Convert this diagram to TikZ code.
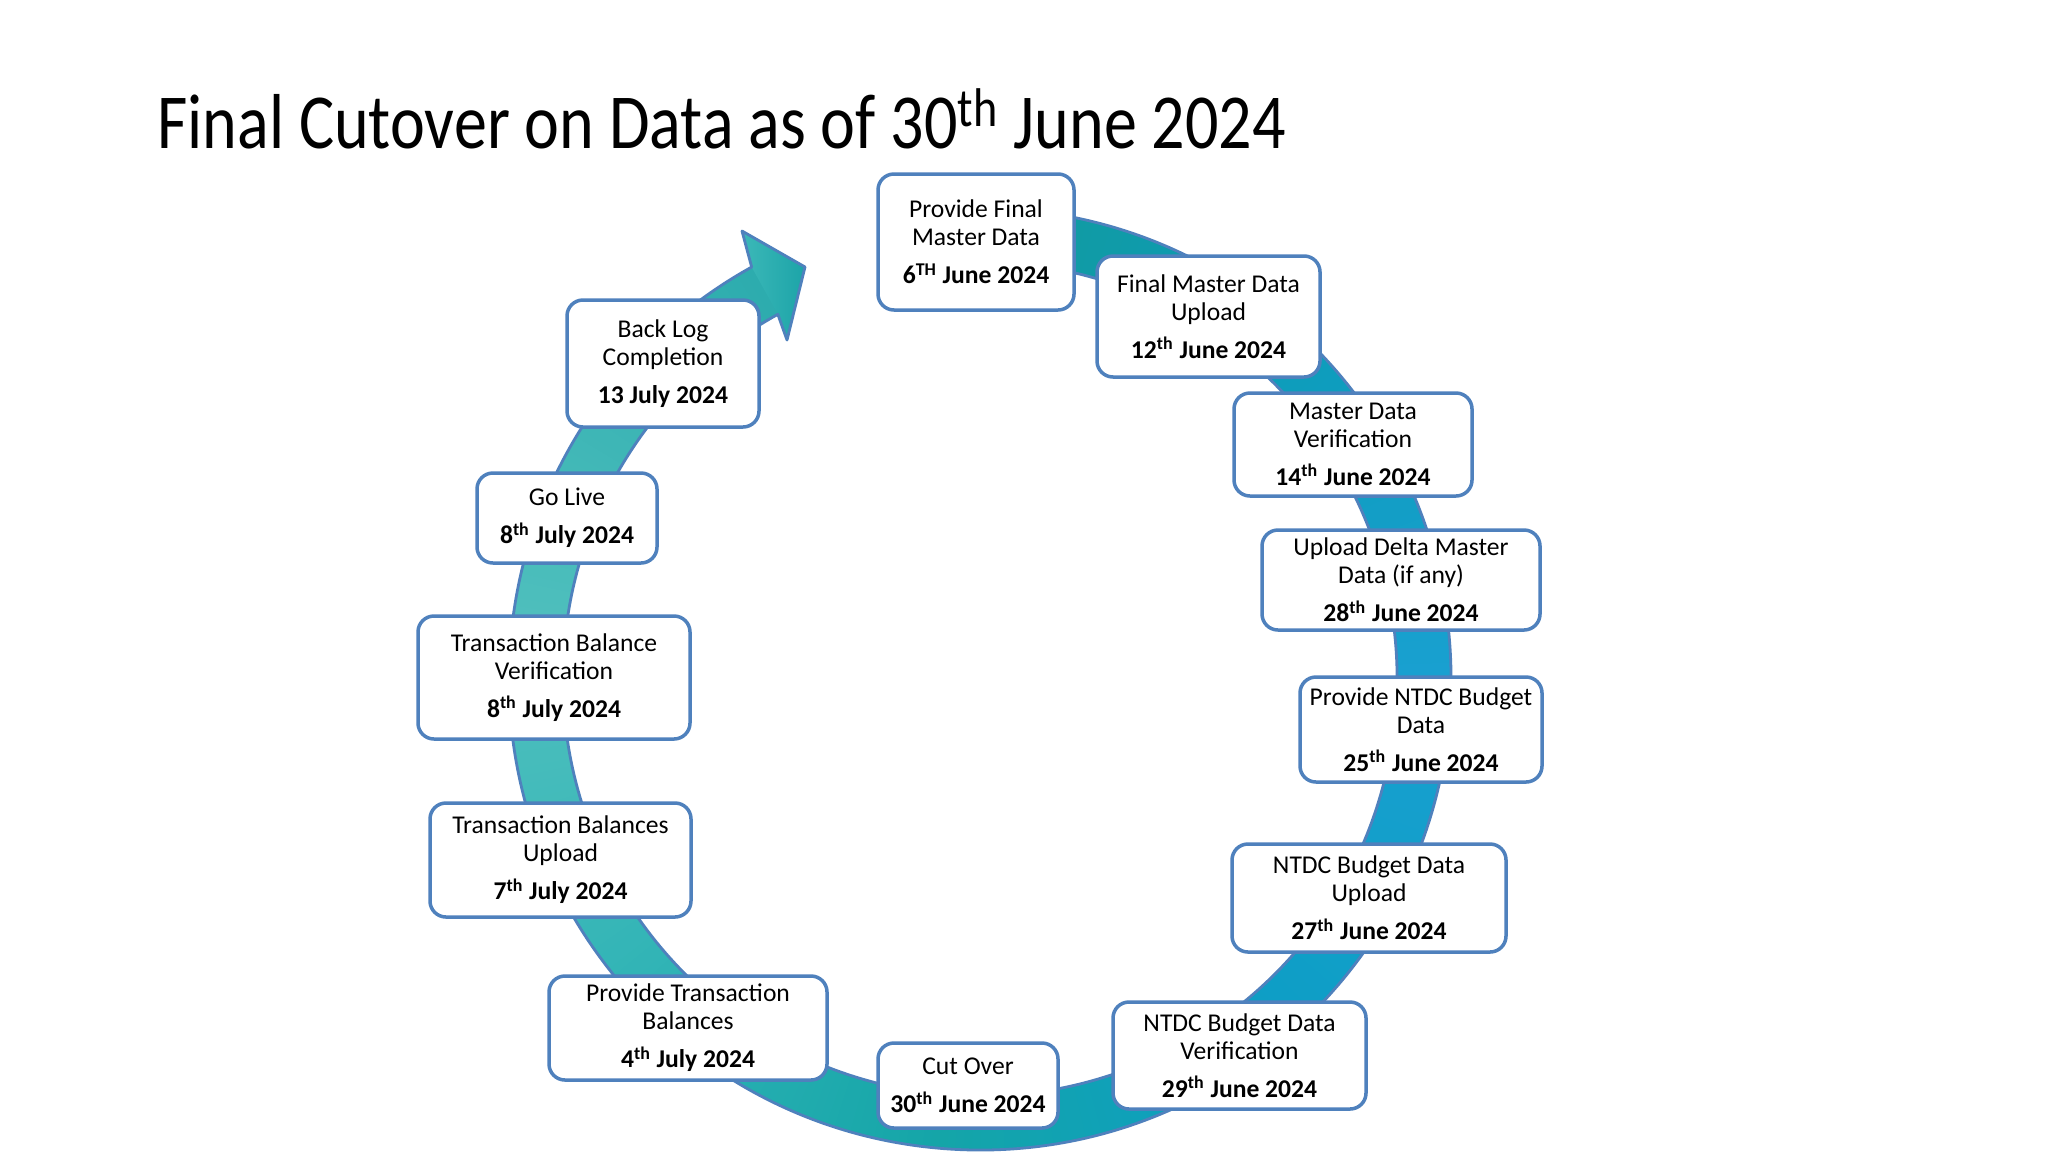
\documentclass[tikz,border=0pt]{standalone}
\usepackage{fontspec}
\usepackage{graphicx}
\setmainfont{Carlito}
\definecolor{boxblue}{RGB}{79,129,189}
\definecolor{cA}{RGB}{16,154,160}
\definecolor{cB}{RGB}{14,157,190}
\definecolor{cC}{RGB}{25,160,208}
\definecolor{cD}{RGB}{12,158,196}
\definecolor{cE}{RGB}{20,165,168}
\definecolor{cF}{RGB}{50,180,182}
\definecolor{cG}{RGB}{80,192,190}
\definecolor{cH}{RGB}{45,172,174}
\definecolor{headL}{RGB}{60,184,184}
\definecolor{headR}{RGB}{28,164,168}
\newcommand{\boxfont}{\fontsize{12.8}{14}\selectfont}
\newcommand{\dt}[1]{\textbf{#1}}
\begin{document}
\begin{tikzpicture}[x=0.5pt,y=-0.5pt,
  stagebox/.style={draw=boxblue, line width=1.75pt, fill=white, rounded corners=8pt,
    align=center, inner sep=2pt, font=\boxfont}]
\fill[white] (0,0) rectangle (2048,1152);
\useasboundingbox (0,0) rectangle (2048,1152);
\node[anchor=base west, font=\fontsize{33}{40}\selectfont, inner sep=0] (title) at (157,148)
  {\scalebox{1}[1.18]{Final Cutover on Data as of 30\textsuperscript{th} June 2024}};
% circular band
\begin{scope}[shift={(980,679)}, yscale=-1]
  \foreach \aa/\ab/\ca/\cb in {85/40/cA/cB, 40/0/cB/cC, 0/-55/cC/cD, -55/-95/cD/cE,
      -95/-140/cE/cF, -140/-185/cF/cG, -185/-241/cG/cH}{
    \pgfmathtruncatemacro{\n}{abs(\aa-\ab)}
    \foreach \k in {1,...,\n}{
      \pgfmathsetmacro{\ta}{\aa-\k+1}
      \pgfmathsetmacro{\tb}{\aa-\k-0.5}
      \pgfmathtruncatemacro{\p}{100*(1-(\k-0.5)/\n)}
      \fill[\ca!\p!\cb] (\ta:471) arc[start angle=\ta, end angle=\tb, radius=471]
        -- (\tb:417) arc[start angle=\tb, end angle=\ta, radius=417] -- cycle;
    }
  }
  \shade[left color=headL, right color=headR]
    (-241:471) -- (-238,448) -- (-175,412) -- (-193,339) -- (-241:417) -- cycle;
  \draw[boxblue, line width=1.4pt, line join=round]
    (85:471) arc[start angle=85, end angle=-241, radius=471]
    -- (-238,448) -- (-175,412) -- (-193,339) -- (-241:417)
    arc[start angle=-241, end angle=85, radius=417] -- cycle;
\end{scope}
% stages
\node[stagebox, minimum width=98pt, minimum height=68pt] (b1) at (976,242)
  {Provide Final\\Master Data\\[5pt]\dt{6\textsuperscript{TH} June 2024}};
\node[stagebox, minimum width=111.5pt, minimum height=60.5pt] (b2) at (1208.5,316.5)
  {Final Master Data\\Upload\\[5pt]\dt{12\textsuperscript{th} June 2024}};
\node[stagebox, minimum width=119pt, minimum height=51.5pt] (b3) at (1353,444.5)
  {Master Data\\Verification\\[5pt]\dt{14\textsuperscript{th} June 2024}};
\node[stagebox, minimum width=139pt, minimum height=50pt] (b4) at (1401,580)
  {Upload Delta Master\\Data (if any)\\[5pt]\dt{28\textsuperscript{th} June 2024}};
\node[stagebox, minimum width=121pt, minimum height=52.5pt] (b5) at (1421,729.5)
  {Provide NTDC Budget\\Data\\[5pt]\dt{25\textsuperscript{th} June 2024}};
\node[stagebox, minimum width=137pt, minimum height=54pt] (b6) at (1369,898)
  {NTDC Budget Data\\Upload\\[5pt]\dt{27\textsuperscript{th} June 2024}};
\node[stagebox, minimum width=126.5pt, minimum height=53.5pt] (b7) at (1239.5,1055.5)
  {NTDC Budget Data\\Verification\\[5pt]\dt{29\textsuperscript{th} June 2024}};
\node[stagebox, minimum width=90pt, minimum height=42.5pt] (b8) at (968,1085.5)
  {Cut Over\\[5pt]\dt{30\textsuperscript{th} June 2024}};
\node[stagebox, minimum width=139pt, minimum height=52pt] (b9) at (688,1028)
  {Provide Transaction\\Balances\\[5pt]\dt{4\textsuperscript{th} July 2024}};
\node[stagebox, minimum width=130.5pt, minimum height=57pt] (b10) at (560.5,860)
  {Transaction Balances\\Upload\\[5pt]\dt{7\textsuperscript{th} July 2024}};
\node[stagebox, minimum width=136pt, minimum height=61.5pt] (b11) at (554,677.5)
  {Transaction Balance\\Verification\\[5pt]\dt{8\textsuperscript{th} July 2024}};
\node[stagebox, minimum width=90pt, minimum height=45pt] (b12) at (567,518)
  {Go Live\\[5pt]\dt{8\textsuperscript{th} July 2024}};
\node[stagebox, minimum width=96pt, minimum height=63.5pt] (b13) at (663,363.5)
  {Back Log\\Completion\\[5pt]\dt{13 July 2024}};
\end{tikzpicture}
\end{document}
